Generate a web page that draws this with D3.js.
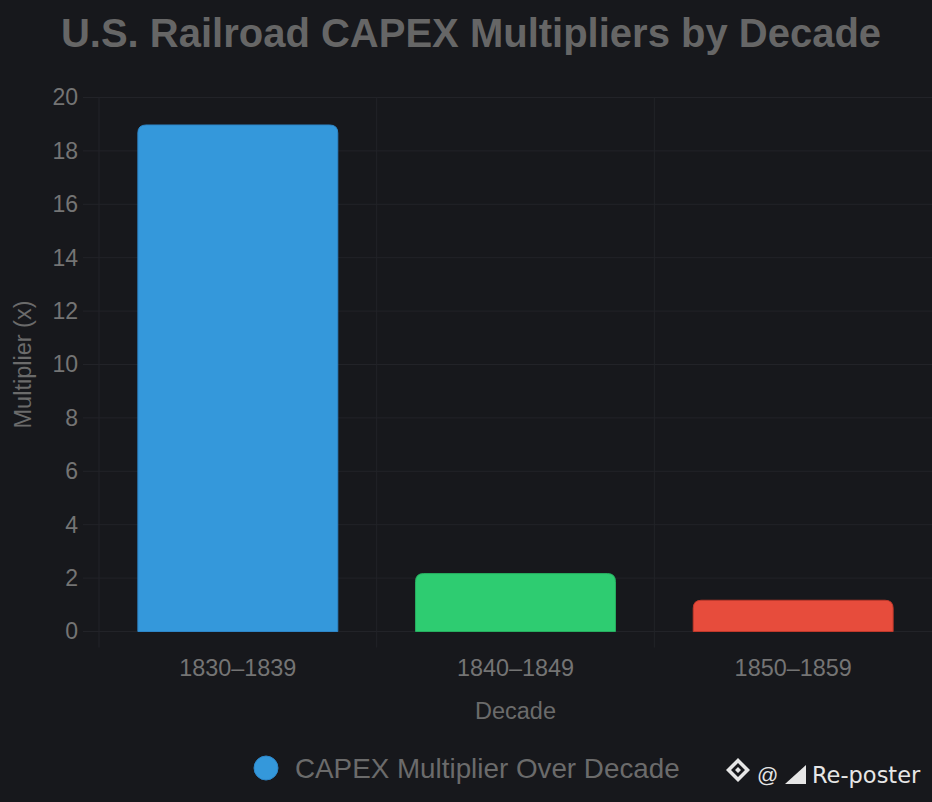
<!DOCTYPE html>
<meta charset="utf-8">
<style>
	html, body {
		margin: 0;
		padding: 0;
		background: #17181c;
	}
	* {
		font-family: "Liberation Sans", Helvetica, Arial, sans-serif;
	}
	.grid line {
		stroke: #222328;
		stroke-width: 1px;
	}
	.tick text {
		fill: #747474;
	}
</style>
<body>
	<div id="chart"></div>
	<script src="https://d3js.org/d3.v7.min.js"></script>
	<script>
		// chart data
		var decades = ["1830\u20131839", "1840\u20131849", "1850\u20131859"];
		var multipliers = [18.97, 2.17, 1.17];
		var bar_colors = ["#3498db", "#2ecc71", "#e74c3c"];
		var border_colors = ["#2e86c8", "#27ae60", "#c0392b"];
		var y_ticks = [0, 2, 4, 6, 8, 10, 12, 14, 16, 18, 20];

		var W = 932, H = 802;
		var margin = {top: 97.5, right: 0, bottom: 170.5, left: 99},
				width = W - margin.left - margin.right,
				height = H - margin.top - margin.bottom;

		var svg = d3.select("#chart").append("svg")
				.attr("width", W)
				.attr("height", H);

		svg.append("rect")
				.attr("width", W)
				.attr("height", H)
				.attr("fill", "#17181c");

		// scales
		var x = d3.scaleBand().domain(decades).range([0, width]).paddingInner(0).paddingOuter(0);
		var y = d3.scaleLinear().domain([0, 20]).range([height, 0]);

		var g = svg.append("g")
				.attr("transform", "translate(" + margin.left + "," + margin.top + ")");

		// horizontal grid
		g.append("g")
				.attr("class", "grid")
				.selectAll("line")
				.data(y_ticks)
				.enter().append("line")
				.attr("x1", -16)
				.attr("x2", width)
				.attr("y1", function (d) { return y(d); })
				.attr("y2", function (d) { return y(d); });

		// vertical grid (category boundaries)
		var bounds = decades.map(function (d) { return x(d); });
		g.append("g")
				.attr("class", "grid")
				.selectAll("line")
				.data(bounds)
				.enter().append("line")
				.attr("x1", function (d) { return d; })
				.attr("x2", function (d) { return d; })
				.attr("y1", 0)
				.attr("y2", height + 16);

		// y axis
		var yAxis = g.append("g")
				.call(d3.axisLeft(y).tickValues(y_ticks).tickSize(0).tickPadding(21));
		yAxis.select(".domain").remove();
		yAxis.selectAll("text").style("font-size", "23px");

		// x axis
		var xAxis = g.append("g")
				.attr("transform", "translate(0," + height + ")")
				.call(d3.axisBottom(x).tickSize(0).tickPadding(28));
		xAxis.select(".domain").remove();
		xAxis.selectAll("text").style("font-size", "23.4px");

		// bars
		var bw = x.bandwidth() * 0.72;
		var r = 8;
		function bar_path(d, i) {
			var cx = x(decades[i]) + x.bandwidth() / 2;
			var x0 = cx - bw / 2, x1 = cx + bw / 2;
			var y0 = y(0), y1 = y(d);
			return "M" + x0 + "," + y0 +
					"V" + (y1 + r) +
					"Q" + x0 + "," + y1 + " " + (x0 + r) + "," + y1 +
					"H" + (x1 - r) +
					"Q" + x1 + "," + y1 + " " + x1 + "," + (y1 + r) +
					"V" + y0 + "Z";
		}
		g.selectAll(".bar")
				.data(multipliers)
				.enter().append("path")
				.attr("class", "bar")
				.attr("d", bar_path)
				.attr("fill", function (d, i) { return bar_colors[i]; })
				.attr("stroke", function (d, i) { return border_colors[i]; })
				.attr("stroke-width", 1);

		// title
		svg.append("text")
				.attr("x", 471)
				.attr("y", 47)
				.attr("text-anchor", "middle")
				.attr("fill", "#666")
				.style("font-size", "40px")
				.style("font-weight", "bold")
				.text("U.S. Railroad CAPEX Multipliers by Decade");

		// axis titles
		svg.append("text")
				.attr("x", margin.left + width / 2)
				.attr("y", 719)
				.attr("text-anchor", "middle")
				.attr("fill", "#6b6b6b")
				.style("font-size", "23.5px")
				.text("Decade");

		svg.append("text")
				.attr("transform", "translate(31," + (margin.top + height / 2) + ") rotate(-90)")
				.attr("text-anchor", "middle")
				.attr("fill", "#6b6b6b")
				.style("font-size", "23.5px")
				.text("Multiplier (x)");

		// legend
		svg.append("circle")
				.attr("cx", 266)
				.attr("cy", 768)
				.attr("r", 12)
				.attr("fill", bar_colors[0])
				.attr("stroke", border_colors[0]);
		svg.append("text")
				.attr("x", 295)
				.attr("y", 778)
				.attr("fill", "#6b6b6b")
				.style("font-size", "27.8px")
				.text("CAPEX Multiplier Over Decade");

		// watermark
		var wm = svg.append("g").attr("fill", "#e6e6e6");
		wm.append("path")
				.attr("d", "M738,758 l12,12 l-12,12 l-12,-12z M738,763 l7,7 l-7,7 l-7,-7z M738,767 l3,3 l-3,3 l-3,-3z")
				.attr("fill-rule", "evenodd");
		wm.append("text")
				.attr("x", 757)
				.attr("y", 782)
				.style("font-size", "21px")
				.text("@");
		wm.append("path")
				.attr("d", "M785,784 L806,765 L806,784 Z");
		wm.append("text")
				.attr("x", 812)
				.attr("y", 783)
				.style("font-family", "'DejaVu Sans', sans-serif")
				.style("font-size", "22.5px")
				.text("Re-poster");
	</script>
</body>
